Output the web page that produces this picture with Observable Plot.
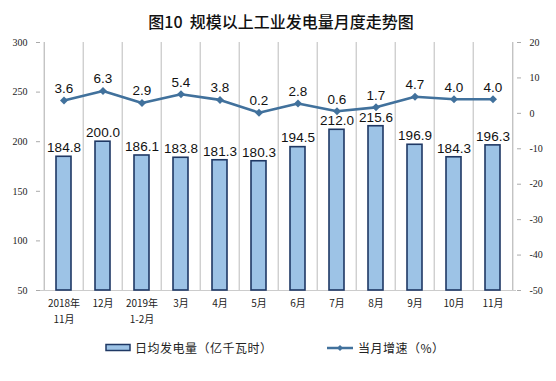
<!DOCTYPE html>
<html><head><meta charset="utf-8">
<script src="https://cdn.jsdelivr.net/npm/d3@7"></script>
<script src="https://cdn.jsdelivr.net/npm/@observablehq/plot@0.6"></script>
<style>
body{margin:0;background:#fff;width:556px;height:381px;overflow:hidden;font-family:"Noto Sans CJK SC",sans-serif;}
#title{height:35px;line-height:42px;text-align:center;font-size:16px;font-weight:500;color:#111;padding-left:6px;}
#legend{position:relative;height:56px;font-size:12px;color:#222;}
.lg{position:absolute;top:14px;display:flex;align-items:center;}
</style></head><body>
<div id="title">图10&nbsp;&nbsp;规模以上工业发电量月度走势图</div>
<div id="chart"></div>
<div id="legend">
  <div class="lg" style="left:105px"><svg width="26" height="10"><rect x="1" y="1.5" width="24" height="6" fill="#9DC3E6" stroke="#1F3864" stroke-width="1.5"/></svg><span style="margin-left:4px;letter-spacing:0.5px">日均发电量（亿千瓦时）</span></div>
  <div class="lg" style="left:326px"><svg width="28" height="10"><line x1="1" y1="5" x2="27" y2="5" stroke="#41719C" stroke-width="2.5"/><path d="M14,2 L17,5 L14,8 L11,5Z" fill="#41719C"/></svg><span style="margin-left:4px;letter-spacing:0.5px">当月增速（%）</span></div>
</div>
<script>
const categories = ["2018年\n11月","12月","2019年\n1-2月","3月","4月","5月","6月","7月","8月","9月","10月","11月"];
const dailyOutput = [184.8,200.0,186.1,183.8,181.3,180.3,194.5,212.0,215.6,196.9,184.3,196.3];
const growth = [3.6,6.3,2.9,5.4,3.8,0.2,2.8,0.6,1.7,4.7,4.0,4.0];
const leftTicks = [50,100,150,200,250,300];
const rightTicks = [-50,-40,-30,-20,-10,0,10,20];

// map right-axis values (-50..20) onto left domain (50..300)
const toLeft = v => 50 + (v + 50) * (250 / 70);
const fromLeft = y => (y - 50) * (70 / 250) - 50;

const bars = categories.map((c,i)=>({c, v: dailyOutput[i]}));
const pts = categories.map((c,i)=>({c, g: growth[i], y: toLeft(growth[i])}));

const chart = Plot.plot({
  width: 556, height: 290,
  marginLeft: 40, marginRight: 40, marginTop: 7, marginBottom: 35,
  style: {fontFamily: "Liberation Serif, 'Noto Sans CJK SC', serif", fontSize: "10px", color: "#222", background: "#fff"},
  x: {domain: categories, padding: 0, label: null},
  y: {domain: [50, 300], label: null},
  marks: [
    Plot.axisY({ticks: leftTicks, tickSize: 4, tickPadding: 9, label: null, fontSize: 10, stroke: "#aaa"}),
    Plot.ruleX([0], {x: () => categories[0], dx: -19.8, y1: 50, y2: 300, stroke: "#aaa"}),
    Plot.axisY({anchor: "right", ticks: rightTicks.map(toLeft), tickFormat: y => String(Math.round(fromLeft(y))), tickSize: 4, tickPadding: 9, label: null, fontSize: 10, stroke: "#aaa"}),
    Plot.ruleX([0], {x: () => categories[categories.length-1], dx: 19.8, y1: 50, y2: 300, stroke: "#aaa"}),
    Plot.ruleY([50], {stroke: "#ccc"}),
    Plot.tickX(categories.slice(1), {x: d => d, dx: -19.8, y1: 50, y2: 48.6, stroke: "#bbb"}),
    Plot.axisX({tickSize: 0, tickPadding: 5, label: null, fontSize: 10, lineHeight: 1.6, fontFamily: "'Noto Sans CJK SC', serif"}),
    Plot.barY(bars, {x: "c", y1: 50, y2: "v", fill: "#9DC3E6", stroke: "#1F3864", strokeWidth: 1.6, insetLeft: 12, insetRight: 12}),
    Plot.text(bars, {x: "c", y: "v", text: d => d.v.toFixed(1), dy: -9, fontSize: 13.5, fontFamily: "Liberation Sans, Arial, sans-serif", fill: "#111"}),
    Plot.line(pts, {x: "c", y: "y", stroke: "#41719C", strokeWidth: 2.6}),
    Plot.dot(pts, {x: "c", y: "y", symbol: "diamond2", r: 3.6, fill: "#41719C", stroke: "none"}),
    Plot.text(pts, {x: "c", y: "y", text: d => d.g.toFixed(1), dy: -12, fontSize: 13.5, fontFamily: "Liberation Sans, Arial, sans-serif", fill: "#111"})
  ]
});
document.getElementById("chart").appendChild(chart);
</script>
</body></html>
